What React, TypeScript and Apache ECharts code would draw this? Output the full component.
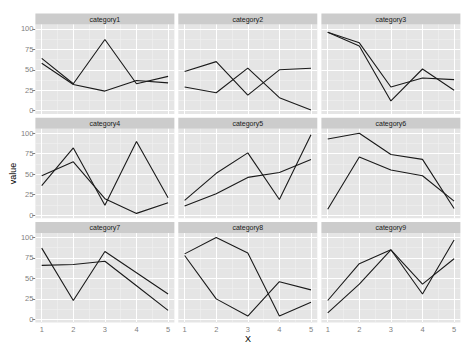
import React, { useEffect, useRef } from "react";
import * as echarts from "echarts";

const categories = [
  "category1", "category2", "category3",
  "category4", "category5", "category6",
  "category7", "category8", "category9",
];
const xValues = [1, 2, 3, 4, 5];
const yTicks = [0, 25, 50, 75, 100];
const yMinor = [12.5, 37.5, 62.5, 87.5];
const xMinor = [1.5, 2.5, 3.5, 4.5];

const lineA = [
  [64, 33, 87, 33, 42],
  [48, 60, 19, 50, 52],
  [96, 83, 29, 40, 38],
  [36, 82, 12, 90, 21],
  [18, 51, 76, 19, 98],
  [93, 100, 74, 68, 8],
  [87, 23, 83, 57, 31],
  [80, 100, 81, 4, 21],
  [23, 68, 85, 43, 74],
];
const lineB = [
  [58, 32, 24, 37, 34],
  [29, 22, 52, 16, 1],
  [96, 79, 12, 51, 25],
  [48, 65, 20, 2, 15],
  [11, 26, 46, 52, 68],
  [7, 71, 55, 48, 17],
  [66, 67, 71, 41, 11],
  [78, 25, 4, 46, 36],
  [8, 43, 85, 31, 97],
];

const FONT = "'Liberation Sans', Arial, sans-serif";

export default function App() {
  const ref = useRef<HTMLDivElement>(null);
  useEffect(() => {
    if (!ref.current) return;
    const chart = echarts.init(ref.current, undefined, { renderer: "svg" });
    const colLeft = [35.4, 178.3, 321.4];
    const rowTop = [24.5, 128.8, 233.1];
    const panelW = 139;
    const panelH = 89.5;
    const stripH = 11;

    const grids: any[] = [];
    const xAxes: any[] = [];
    const yAxes: any[] = [];
    const series: any[] = [];
    const graphics: any[] = [];

    categories.forEach((cat, i) => {
      const r = Math.floor(i / 3);
      const c = i % 3;
      grids.push({
        left: colLeft[c], top: rowTop[r], width: panelW, height: panelH,
        show: true, backgroundColor: "#E5E5E5", borderWidth: 0, containLabel: false,
      });
      xAxes.push({
        type: "value", gridIndex: i, min: 0.8, max: 5.2,
        splitLine: { show: false }, axisLine: { show: false },
        axisTick: { show: r === 2, length: 3, customValues: xValues, lineStyle: { color: "#7F7F7F", width: 1 } },
        axisLabel: { show: r === 2, customValues: xValues, color: "#7F7F7F", fontSize: 7.5, margin: 3, fontFamily: FONT },
      });
      yAxes.push({
        type: "value", gridIndex: i, min: -4, max: 105.4,
        splitLine: { show: false }, axisLine: { show: false },
        axisTick: { show: c === 0, length: 3, customValues: yTicks, lineStyle: { color: "#7F7F7F", width: 1 } },
        axisLabel: { show: c === 0, customValues: yTicks, color: "#7F7F7F", fontSize: 7.5, margin: 2, fontFamily: FONT },
      });
      series.push({
        type: "line", xAxisIndex: i, yAxisIndex: i, data: [], silent: true, z: 1,
        markLine: {
          z: 1, silent: true, symbol: ["none", "none"], label: { show: false }, animation: false,
          lineStyle: { color: "#F2F2F2", width: 0.5, type: "solid" },
          emphasis: { disabled: true },
          data: [...xMinor.map((v) => ({ xAxis: v })), ...yMinor.map((v) => ({ yAxis: v }))],
        },
      });
      series.push({
        type: "line", xAxisIndex: i, yAxisIndex: i, data: [], silent: true, z: 1,
        markLine: {
          z: 1.5, silent: true, symbol: ["none", "none"], label: { show: false }, animation: false,
          lineStyle: { color: "#FFFFFF", width: 1, type: "solid" },
          emphasis: { disabled: true },
          data: [...xValues.map((v) => ({ xAxis: v })), ...yTicks.map((v) => ({ yAxis: v }))],
        },
      });
      [lineA[i], lineB[i]].forEach((vals) => {
        series.push({
          type: "line", xAxisIndex: i, yAxisIndex: i, silent: true, z: 3,
          data: xValues.map((x, k) => [x, vals[k]]),
          symbol: "none", showSymbol: false,
          lineStyle: { color: "#1A1A1A", width: 1.1 },
        });
      });
      graphics.push({
        type: "rect",
        shape: { x: colLeft[c], y: rowTop[r] - stripH, width: panelW, height: stripH },
        style: { fill: "#CCCCCC" },
      });
      graphics.push({
        type: "text",
        x: colLeft[c] + panelW / 2, y: rowTop[r] - stripH / 2,
        style: { text: cat, fill: "#1A1A1A", fontSize: 7, align: "center", verticalAlign: "middle", fontFamily: FONT },
      });
    });

    graphics.push({
      type: "text", x: 13, y: 173.5, rotation: Math.PI / 2,
      style: { text: "value", fill: "#000000", fontSize: 9, align: "center", verticalAlign: "middle", fontFamily: FONT },
    });
    graphics.push({
      type: "text", x: 248, y: 339,
      style: { text: "X", fill: "#000000", fontSize: 9, align: "center", verticalAlign: "middle", fontFamily: FONT },
    });

    chart.setOption({
      animation: false,
      backgroundColor: "#FFFFFF",
      grid: grids,
      xAxis: xAxes,
      yAxis: yAxes,
      series,
      graphic: graphics,
    });
    return () => chart.dispose();
  }, []);
  return (
    <div
      ref={ref}
      style={{ position: "fixed", left: 0, top: 0, width: 474, height: 352 }}
    />
  );
}
